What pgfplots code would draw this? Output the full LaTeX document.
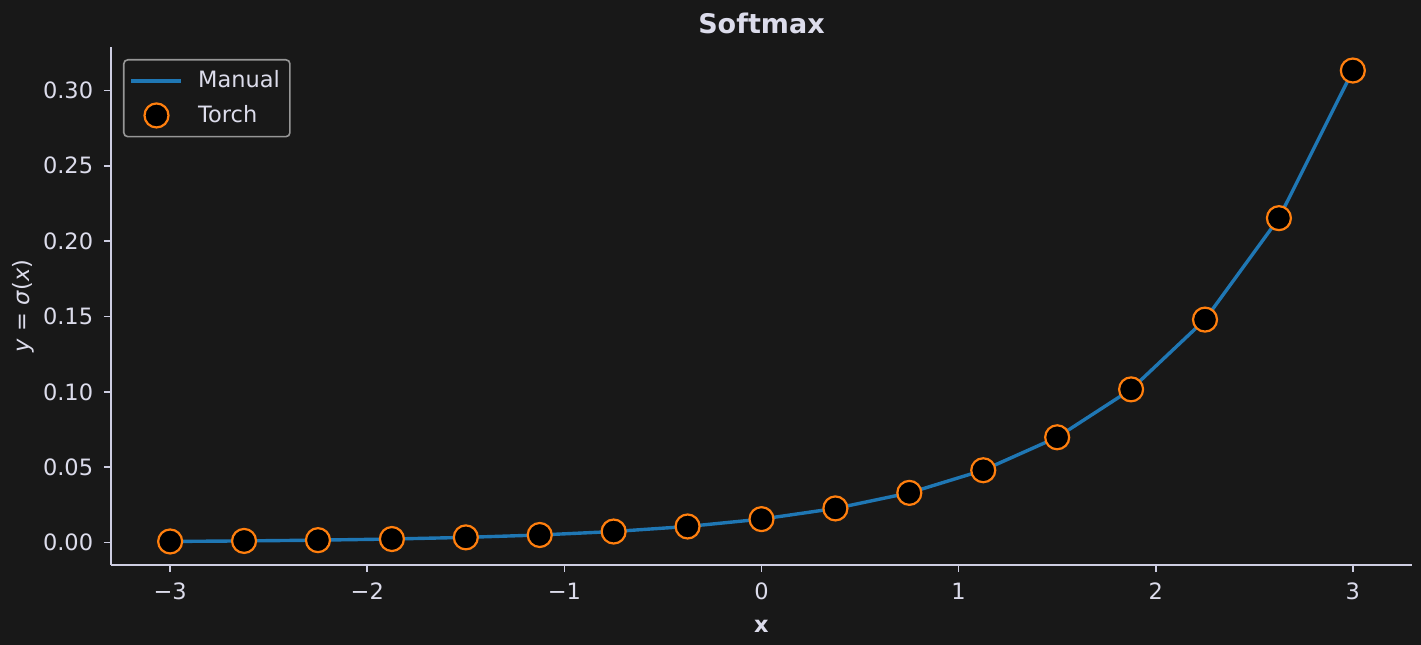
\documentclass[border=0pt]{standalone}
\usepackage{pgfplots}
\pgfplotsset{compat=1.18}
\usepackage{fontspec}
\setmainfont{DejaVu Sans}
\definecolor{bg}{RGB}{24,24,24}
\definecolor{fg}{RGB}{220,220,235}
\definecolor{spine}{RGB}{205,205,225}
\definecolor{tabblue}{RGB}{31,119,180}
\definecolor{taborange}{RGB}{255,127,14}
\pgfplotsset{
  lineleg/.style={legend image code/.code={\draw[##1] (0bp,0bp) -- (25bp,0bp);}},
  markleg/.style={legend image code/.code={\draw[mark repeat=2,mark phase=2,##1] plot coordinates {(0bp,0bp) (12.5bp,0bp) (25bp,0bp)};}},
}
\pgfplotstableread{
x y
-3.000 0.000776
-2.625 0.001130
-2.250 0.001644
-1.875 0.002391
-1.500 0.003479
-1.125 0.005062
-0.750 0.007366
-0.375 0.010717
0.000 0.015593
0.375 0.022688
0.750 0.033011
1.125 0.048031
1.500 0.069884
1.875 0.101680
2.250 0.147950
2.625 0.215260
3.000 0.313200
}\datatable
\begin{document}
\fontsize{11.25bp}{13.5bp}\selectfont
\begin{tikzpicture}
\path[use as bounding box, fill=bg] (-55.5bp,-40bp) rectangle (655bp,282.5bp);
\begin{axis}[
  at={(0,0)}, anchor=south west,
  width=650.5bp, height=259bp, scale only axis,
  xmin=-3.3, xmax=3.3, ymin=-0.01484, ymax=0.3288,
  axis lines*=left,
  axis line style={spine, line width=0.8bp},
  tick style={spine, line width=0.8bp},
  tick align=outside,
  major tick length=3.5bp,
  xtick={-3,-2,-1,0,1,2,3},
  xticklabels={−3,−2,−1,0,1,2,3},
  ytick={0,0.05,0.10,0.15,0.20,0.25,0.30},
  yticklabel style={/pgf/number format/.cd, fixed, fixed zerofill, precision=2, assume math mode=true, /tikz/.cd, xshift=-1.5bp},
  ticklabel style={font=\fontsize{11.25bp}{13.5bp}\selectfont, text=fg},
  xticklabel style={yshift=-1.5bp},
  title={\bfseries Softmax},
  title style={font=\fontsize{13.5bp}{16bp}\selectfont, text=fg, yshift=-3.5bp},
  xlabel={\bfseries x},
  xlabel style={font=\fontsize{11.25bp}{13.5bp}\selectfont, text=fg, yshift=-2.5bp},
  ylabel={\textit{y} = \textit{σ}(\textit{x})},
  ylabel style={font=\fontsize{11.25bp}{13.5bp}\selectfont, text=fg, yshift=-3.5bp},
  legend style={at={(0,1)}, anchor=north west, xshift=6bp, yshift=-6bp,
    fill=bg, draw={rgb,255:red,150;green,150;blue,150}, line width=0.8bp, rounded corners=2bp,
    text=fg, font=\fontsize{11.25bp}{13.5bp}\selectfont,
    row sep=3bp, inner xsep=3bp, inner ysep=3.5bp,
    /tikz/every odd column/.style={column sep=5.5bp}},
  legend cell align=left,
]
\addplot[tabblue, line width=1.7bp, lineleg] table[x=x,y=y]{\datatable};
\addlegendentry{Manual}
\addplot[only marks, mark=*, mark size=6bp, mark options={fill=black, draw=taborange, line width=1.1bp}, markleg]
  table[x=x,y=y]{\datatable};
\addlegendentry{Torch}
\end{axis}
\end{tikzpicture}
\end{document}
